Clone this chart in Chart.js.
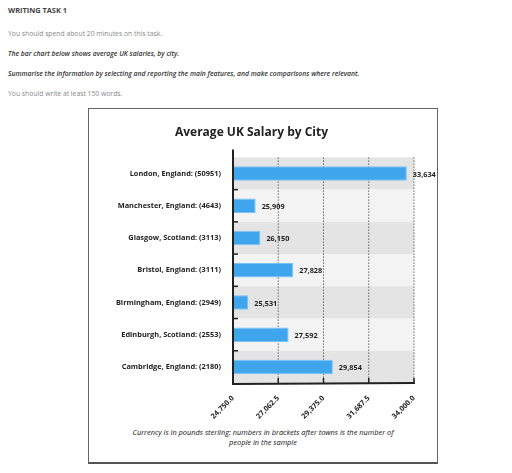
<!DOCTYPE html>
<html><head><meta charset="utf-8">
<script src="https://cdn.jsdelivr.net/npm/chart.js@4"></script>
<style>
body{margin:0;background:#fff;font-family:"Open Sans",sans-serif;width:512px;height:473px;overflow:hidden;position:relative}
.t{position:absolute;left:8px;font-size:6.8px;color:#8a8a8a;white-space:nowrap}
.h{color:#444;font-weight:bold;font-size:7.4px}
.b{color:#333;font-weight:600;font-style:italic}
#box{position:absolute;left:88px;top:108px;width:348px;height:353px;border:1px solid #666;border-bottom:2px solid #555;background:#fff}
#foot{position:absolute;left:0;width:348px;top:318px;text-align:center;font-family:"Open Sans",sans-serif;font-style:italic;font-size:7.4px;color:#111;line-height:10px}
</style></head><body>
<div class="t h" style="top:5px">WRITING TASK 1</div>
<div class="t" style="top:29px">You should spend about 20 minutes on this task.</div>
<div class="t b" style="top:49px">The bar chart below shows average UK salaries, by city.</div>
<div class="t b" style="top:69px">Summarise the information by selecting and reporting the main features, and make comparisons where relevant.</div>
<div class="t" style="top:89px">You should write at least 150 words.</div>
<div id="box"><canvas id="c" width="348" height="312" style="width:348px;height:312px"></canvas>
<div id="foot">Currency is in pounds sterling: numbers in brackets after towns is the number of<br>people in the sample</div></div>
<script>
const cities=["London, England: (50951)","Manchester, England: (4643)","Glasgow, Scotland: (3113)","Bristol, England: (3111)","Birmingham, England: (2949)","Edinburgh, Scotland: (2553)","Cambridge, England: (2180)"];
const salaries=[33634,25909,26150,27828,25531,27592,29854];
const axisMin=24750, axisMax=34000, axisStep=2312.5;
const fmt=n=>n.toLocaleString('en-US');
const deco={id:'deco',
 beforeDatasetsDraw(ch){const {ctx,chartArea:a,scales:{x,y}}=ch;const n=cities.length,h=(a.bottom-a.top)/n;ctx.save();
  for(let i=0;i<n;i++){ctx.fillStyle=i%2?'#f3f3f3':'#e4e4e4';ctx.fillRect(a.left,a.top+i*h,a.right-a.left,h);}
  ctx.strokeStyle='#444';ctx.lineWidth=0.8;ctx.setLineDash([1.5,1.5]);
  for(let v=axisMin+axisStep;v<=axisMax+1;v+=axisStep){const px=x.getPixelForValue(v);ctx.beginPath();ctx.moveTo(px,a.top);ctx.lineTo(px,a.bottom);ctx.stroke();}
  ctx.restore();},
 afterDatasetsDraw(ch){const {ctx,chartArea:a,scales:{x,y}}=ch;const n=cities.length,h=(a.bottom-a.top)/n;ctx.save();
  ctx.strokeStyle='#222';ctx.lineWidth=2;ctx.beginPath();ctx.moveTo(a.left,a.top-8);ctx.lineTo(a.left,a.bottom+1);ctx.lineTo(a.right+1,a.bottom);ctx.stroke();
  ctx.lineWidth=1.5;
  for(let i=1;i<n;i++){const py=a.top+i*h;ctx.beginPath();ctx.moveTo(a.left,py);ctx.lineTo(a.left+5,py);ctx.stroke();}
  for(let v=axisMin+axisStep;v<=axisMax+1;v+=axisStep){const px=x.getPixelForValue(v);ctx.beginPath();ctx.moveTo(px,a.bottom);ctx.lineTo(px,a.bottom-5);ctx.stroke();}
  const meta=ch.getDatasetMeta(0);ctx.fillStyle='#222';ctx.font='bold 7.3px "Open Sans"';ctx.textBaseline='middle';
  meta.data.forEach((b,i)=>ctx.fillText(fmt(salaries[i]),b.x+6,b.y+1));
  ctx.restore();}};
new Chart(document.getElementById('c'),{type:'bar',
 data:{labels:cities,datasets:[{data:salaries,backgroundColor:'#3fa6ee',borderColor:'#7cc3f5',borderWidth:1,borderSkipped:false,barPercentage:0.45,categoryPercentage:1}]},
 options:{indexAxis:'y',responsive:false,animation:false,base:axisMin,
  layout:{padding:{left:0,right:23,top:0,bottom:0}},
  plugins:{legend:{display:false},tooltip:{enabled:false},
   title:{display:true,text:'Average UK Salary by City',color:'#222',font:{family:'"Open Sans"',size:12,weight:'bold'},padding:{top:16,bottom:18}}},
  scales:{
   x:{min:axisMin,max:axisMax,grid:{display:false},border:{display:false},
      afterFit(s){s.height=38;},
      ticks:{stepSize:axisStep,minRotation:45,maxRotation:45,color:'#222',font:{family:'"Open Sans"',size:7.3,weight:'bold'},
       callback:v=>Number(v).toLocaleString('en-US',{minimumFractionDigits:1,maximumFractionDigits:1})}},
   y:{grid:{display:false},border:{display:false},afterFit(s){s.width=144;},
      ticks:{color:'#222',padding:4,font:{family:'"Open Sans"',size:7.4,weight:'bold'}}}}},
 plugins:[deco]});
</script></body></html>
